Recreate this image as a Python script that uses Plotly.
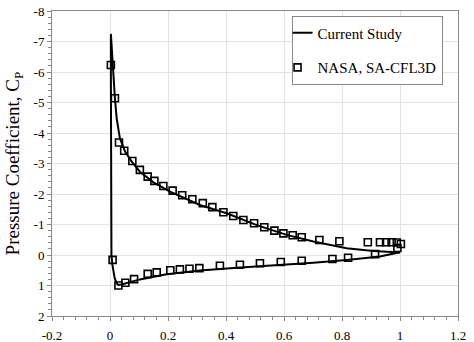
import plotly.graph_objects as go

# Current Study: upper surface (LE -> TE) and lower surface (LE -> TE)
upper_x = [0.004, 0.007, 0.011, 0.017, 0.023, 0.034, 0.052, 0.075, 0.103, 0.150,
           0.207, 0.310, 0.402, 0.506, 0.609, 0.701, 0.816, 0.908, 0.989, 1.000]
upper_cp = [-7.25, -6.90, -6.20, -5.14, -4.48, -3.83, -3.39, -3.06, -2.73, -2.38,
            -2.08, -1.64, -1.37, -0.98, -0.66, -0.44, -0.22, -0.13, -0.09, -0.08]
lower_x = [0.003, 0.003, 0.003, 0.004, 0.005, 0.008, 0.011, 0.016, 0.023, 0.029,
           0.040, 0.057, 0.103, 0.195, 0.310, 0.450, 0.586, 0.701, 0.816, 0.931,
           0.983, 1.000]
lower_cp = [-7.25, -6.00, -3.00, -1.00, 0.00, 0.30, 0.49, 0.75, 0.93, 0.98,
            0.97, 0.93, 0.80, 0.63, 0.51, 0.41, 0.33, 0.25, 0.16, 0.05,
            -0.06, -0.08]

# NASA, SA-CFL3D data
nasa_upper_x = [0.003, 0.017, 0.031, 0.049, 0.077, 0.103, 0.130, 0.153, 0.184, 0.216,
                0.249, 0.284, 0.320, 0.353, 0.391, 0.425, 0.460, 0.497, 0.532, 0.567,
                0.598, 0.630, 0.661, 0.722, 0.791, 0.889, 0.931, 0.952, 0.971, 0.989,
                1.003]
nasa_upper_cp = [-6.23, -5.14, -3.69, -3.42, -3.08, -2.79, -2.57, -2.43, -2.26, -2.11,
                 -1.96, -1.83, -1.70, -1.57, -1.40, -1.28, -1.15, -1.04, -0.91, -0.80,
                 -0.71, -0.65, -0.58, -0.49, -0.45, -0.42, -0.42, -0.42, -0.42, -0.41,
                 -0.36]
nasa_lower_x = [0.009, 0.029, 0.053, 0.083, 0.130, 0.161, 0.208, 0.241, 0.274, 0.308,
                0.379, 0.448, 0.517, 0.589, 0.661, 0.767, 0.821, 0.914, 0.991]
nasa_lower_cp = [0.16, 1.00, 0.91, 0.79, 0.62, 0.57, 0.50, 0.47, 0.45, 0.43,
                 0.35, 0.32, 0.27, 0.23, 0.19, 0.13, 0.09, -0.03, -0.23]

x_ticks = [-0.2, 0, 0.2, 0.4, 0.6, 0.8, 1, 1.2]
x_tick_text = ["-0.2", "0", "0.2", "0.4", "0.6", "0.8", "1", "1.2"]
y_ticks = [-8, -7, -6, -5, -4, -3, -2, -1, 0, 1, 2]
y_tick_text = ["-8", "-7", "-6", "-5", "-4", "-3", "-2", "-1", "0", "1", "2"]

line_x = upper_x[::-1] + lower_x
line_cp = upper_cp[::-1] + lower_cp

FONT = "Liberation Serif"

fig = go.Figure()
fig.add_trace(go.Scatter(
    x=line_x, y=line_cp, mode="lines", name="Current Study",
    line=dict(color="black", width=2), legendgroup="a"))
fig.add_trace(go.Scatter(
    x=nasa_upper_x + nasa_lower_x, y=nasa_upper_cp + nasa_lower_cp,
    mode="markers", name="NASA, SA-CFL3D", legendgroup="b",
    marker=dict(symbol="square-open", size=7, color="black",
                line=dict(color="black", width=1.6))))

fig.update_layout(
    width=474, height=342,
    margin=dict(l=52, r=16, t=11, b=26, autoexpand=False),
    paper_bgcolor="white", plot_bgcolor="white",
    font=dict(family=FONT, size=13, color="black"),
    showlegend=True,
    legend=dict(x=0.59, y=0.985, xanchor="left", yanchor="top",
                bgcolor="white", bordercolor="#888", borderwidth=1,
                font=dict(family=FONT, size=15, color="black"),
                tracegroupgap=12, itemwidth=30, indentation=-15),
)
fig.update_xaxes(
    range=[-0.2, 1.2], tickvals=x_ticks, ticktext=x_tick_text,
    showgrid=True, gridcolor="#e3e3e3", gridwidth=1,
    showline=True, linecolor="#888", linewidth=1, mirror=True,
    ticks="outside", ticklen=4, tickcolor="#888", zeroline=False,
    minor=dict(dtick=0.04, ticks="outside", ticklen=3, tickcolor="#888", showgrid=False),
    tickfont=dict(family=FONT, size=13, color="black"), ticklabelstandoff=3,
    automargin=False,
)
fig.update_yaxes(
    range=[2, -8], tickvals=y_ticks, ticktext=y_tick_text,
    showgrid=True, gridcolor="#e3e3e3", gridwidth=1,
    showline=True, linecolor="#888", linewidth=1, mirror=True,
    ticks="outside", ticklen=4, tickcolor="#888", zeroline=False,
    minor=dict(dtick=0.2, ticks="outside", ticklen=3, tickcolor="#888", showgrid=False),
    tickfont=dict(family=FONT, size=13, color="black"),
    title=dict(text="Pressure Coefficient, C<sub>P</sub>", standoff=8,
               font=dict(family=FONT, size=19, color="black")),
    automargin=False,
)

fig.write_html("out.html")
